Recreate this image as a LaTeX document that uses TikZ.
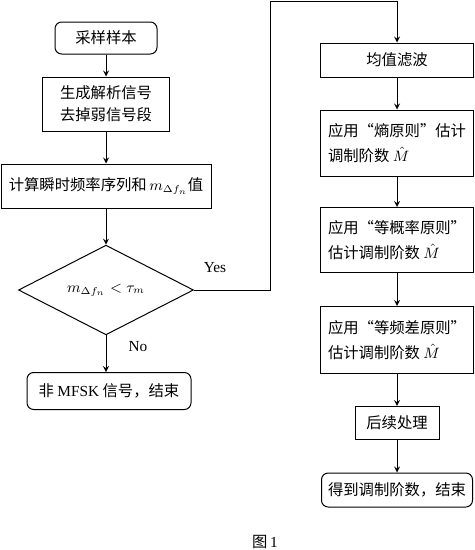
\documentclass[tikz,border=0pt]{standalone}
\usepackage{fontspec}
\setmainfont{Liberation Serif}
\newfontfamily\cjk{Noto Sans CJK SC}
\usetikzlibrary{shapes.geometric}

\begin{document}
\begin{tikzpicture}[x=0.6pt,y=-0.6pt,>=stealth,line width=0.6pt,
    font=\cjk\fontsize{9.2}{13.4}\selectfont,
    box/.style={draw,align=left,inner sep=2pt},
    term/.style={box,rounded corners=4pt},
    decide/.style={draw,diamond,inner sep=0pt}]
  \useasboundingbox (0,0) rectangle (474,550);
  % left column
  \node[term,minimum width=61.2pt,minimum height=19.2pt] (start) at (106,38) {采样样本};
  \node[box,minimum width=76.2pt,minimum height=32.4pt] (gen) at (106,104) {生成解析信号\\去掉弱信号段};
  \node[box,minimum width=126pt,minimum height=26.4pt] (calc) at (106,186) {计算瞬时频率序列和$\,m_{\Delta f_n}$值};
  \node[decide,minimum width=105pt,minimum height=45.6pt] (dec) at (106,290) {$m_{\Delta f_n}<\tau_m$};
  \node[term,minimum width=98.4pt,minimum height=22.2pt] (nomf) at (109,391) {非 {\rmfamily MFSK} 信号，结束};
  \node (yes) at (215,268) {\rmfamily Yes};
  \node (no) at (138,347) {\rmfamily No};
  % right column
  \node[box,minimum width=91.8pt,minimum height=20.4pt] (filter) at (397,60) {均值滤波};
  \node[box,minimum width=91.8pt,minimum height=39.6pt] (entr) at (397,143) {应用“熵原则”估计\\[2pt]调制阶数 $\hat{M}$};
  \node[box,minimum width=91.8pt,minimum height=39pt] (prob) at (397,240) {应用“等概率原则”\\[2pt]估计调制阶数 $\hat{M}$};
  \node[box,minimum width=91.8pt,minimum height=40.2pt] (freq) at (397,340) {应用“等频差原则”\\[2pt]估计调制阶数 $\hat{M}$};
  \node[box,minimum width=50.4pt,minimum height=19.8pt] (post) at (397,423) {后续处理};
  \node[term,minimum width=90.6pt,minimum height=20.4pt] (res) at (397,490) {得到调制阶数，结束};
  \node (cap) at (265,542) {图\,{\rmfamily 1}};
  \coordinate (ytop) at (270,1.5);
  % connectors
  \draw[->] (start) -- (gen);
  \draw[->] (gen) -- (calc);
  \draw[->] (calc) -- (dec);
  \draw[->] (dec.south) -- (dec.south |- nomf.north);
  \draw[->] (dec.east) -| (ytop) -| (filter.north);
  \draw[->] (filter) -- (entr);
  \draw[->] (entr) -- (prob);
  \draw[->] (prob) -- (freq);
  \draw[->] (freq) -- (post);
  \draw[->] (post) -- (res);
\end{tikzpicture}
\end{document}
